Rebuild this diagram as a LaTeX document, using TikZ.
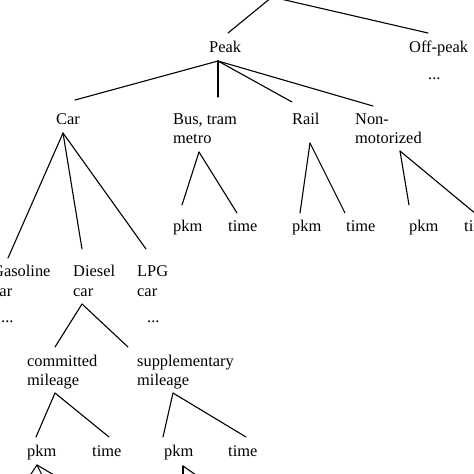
\documentclass[tikz,border=0pt]{standalone}
\usepackage{fontspec}
\setmainfont{Liberation Serif}
\begin{document}
\begin{tikzpicture}[x=1pt,y=-1pt,
  lbl/.style={inner sep=0pt, anchor=base west, font=\fontsize{16.4}{19.5}\selectfont},
  edge/.style={line width=1.1pt, line cap=round}]
\useasboundingbox (0,0) rectangle (474,474);
\clip (0,0) rectangle (474,474);
% labels
\node[lbl] (peak) at (209,52) {Peak};
\node[lbl] (offpeak) at (409,52) {Off-peak};
\node[lbl] (opdots) at (428,79) {...};
\node[lbl] (car) at (56,124) {Car};
\node[lbl] (bus1) at (173,124) {Bus, tram};
\node[lbl] (bus2) at (173,143) {metro};
\node[lbl] (rail) at (292,124) {Rail};
\node[lbl] (non1) at (355,124) {Non-};
\node[lbl] (non2) at (355,143) {motorized};
\node[lbl] (pkmA) at (173,231) {pkm};
\node[lbl] (timeA) at (228,231) {time};
\node[lbl] (pkmB) at (292,231) {pkm};
\node[lbl] (timeB) at (346,231) {time};
\node[lbl] (pkmC) at (409,231) {pkm};
\node[lbl] (timeC) at (464,231) {time};
\node[lbl] (gas1) at (-8,276) {Gasoline};
\node[lbl] (gas2) at (-8,296) {car};
\node[lbl] (gasdots) at (1,322) {...};
\node[lbl] (die1) at (73,276) {Diesel};
\node[lbl] (die2) at (73,296) {car};
\node[lbl] (lpg1) at (137,276) {LPG};
\node[lbl] (lpg2) at (137,296) {car};
\node[lbl] (lpgdots) at (147,322) {...};
\node[lbl] (com1) at (27,366) {committed};
\node[lbl] (com2) at (27,385) {mileage};
\node[lbl] (sup1) at (137,366) {supplementary};
\node[lbl] (sup2) at (137,385) {mileage};
\node[lbl] (pkmD) at (27,456) {pkm};
\node[lbl] (timeD) at (92,456) {time};
\node[lbl] (pkmE) at (164,456) {pkm};
\node[lbl] (timeE) at (228,456) {time};
% connector end points
\coordinate (root) at (272,-3);
\coordinate (peakT) at (228,33);
\coordinate (offT) at (428,33);
\coordinate (peakB) at (218,61);
\coordinate (carT) at (75,100);
\coordinate (busT) at (218,97);
\coordinate (railT) at (292,102);
\coordinate (nonT) at (373,106);
\coordinate (carB) at (63,133);
\coordinate (gasT) at (8,258);
\coordinate (dieT) at (82,249);
\coordinate (lpgT) at (146,249);
\coordinate (busB) at (199,152);
\coordinate (pkmAT) at (182,205);
\coordinate (timeAT) at (237,213);
\coordinate (railB) at (310,143);
\coordinate (pkmBT) at (300,213);
\coordinate (timeBT) at (345,213);
\coordinate (nonB) at (400,151);
\coordinate (pkmCT) at (409,205);
\coordinate (timeCT) at (482,219);
\coordinate (dieB) at (82,304);
\coordinate (comT) at (55,347);
\coordinate (supT) at (128,347);
\coordinate (comB) at (55,393);
\coordinate (pkmDT) at (36,437);
\coordinate (timeDT) at (109,437);
\coordinate (supB) at (173,393);
\coordinate (pkmET) at (163,437);
\coordinate (timeET) at (246,437);
\coordinate (pkmDB) at (37,465);
\coordinate (dA) at (29,477);
\coordinate (dB) at (43,477);
\coordinate (dC) at (54,475);
\coordinate (pkmEB) at (183,466);
\coordinate (eA) at (183,478);
\coordinate (eB) at (196,475);
% connectors
\draw[edge] (root) -- (peakT);
\draw[edge] (root) -- (offT);
\draw[edge] (peakB) -- (carT);
\draw[edge] (peakB) -- (busT);
\draw[edge] (peakB) -- (railT);
\draw[edge] (peakB) -- (nonT);
\draw[edge] (carB) -- (gasT);
\draw[edge] (carB) -- (dieT);
\draw[edge] (carB) -- (lpgT);
\draw[edge] (busB) -- (pkmAT);
\draw[edge] (busB) -- (timeAT);
\draw[edge] (railB) -- (pkmBT);
\draw[edge] (railB) -- (timeBT);
\draw[edge] (nonB) -- (pkmCT);
\draw[edge] (nonB) -- (timeCT);
\draw[edge] (dieB) -- (comT);
\draw[edge] (dieB) -- (supT);
\draw[edge] (comB) -- (pkmDT);
\draw[edge] (comB) -- (timeDT);
\draw[edge] (supB) -- (pkmET);
\draw[edge] (supB) -- (timeET);
\draw[edge] (pkmDB) -- (dA);
\draw[edge] (pkmDB) -- (dB);
\draw[edge] (pkmDB) -- (dC);
\draw[edge] (pkmEB) -- (eA);
\draw[edge] (pkmEB) -- (eB);
\end{tikzpicture}
\end{document}
